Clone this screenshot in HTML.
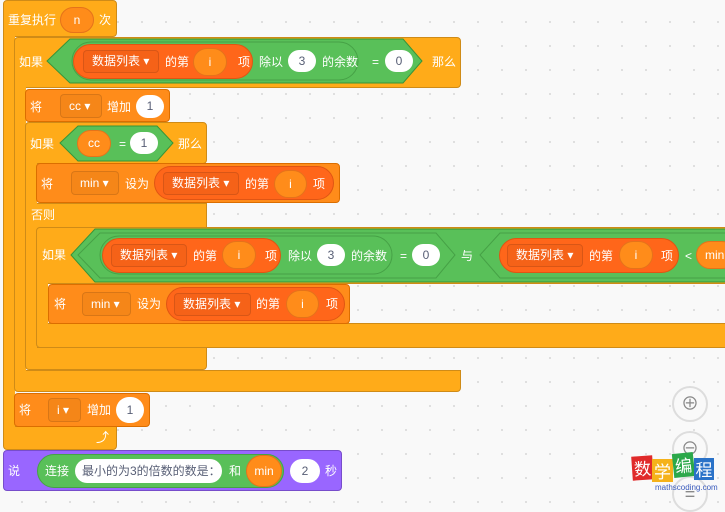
<!DOCTYPE html>
<html><head><meta charset="utf-8"><style>
*{margin:0;padding:0;box-sizing:border-box}
body{width:725px;height:503px;overflow:hidden;background:#f9f9f9;background-image:radial-gradient(#ddd 1px,transparent 1.2px);background-size:24px 24px;background-position:10px 10px;position:relative;font-family:"Liberation Sans","Noto Sans CJK SC",sans-serif}
div{position:absolute}
.c{background:#FFAB19;border:1px solid #CF8B17}
.a{background:#FFAB19;border-left:1px solid #CF8B17}
.o{background:#FF8C1A;border:1px solid #DB6E00;border-radius:4px}
.r{background:#FF661A;border:1px solid #E05513;border-radius:20px}
.v{background:#FF8C1A;border:1px solid #E5731A;border-radius:16px}
.w{background:#fff;border-radius:14px;color:#575e75;font-size:12px;text-align:center}
.dd{border:1px solid rgba(0,0,0,.12);border-radius:4px;background:rgba(0,0,0,.04)}
.t{color:#fff;font-size:12px;line-height:16px;white-space:nowrap}
.ct{color:#fff;font-size:12px;text-align:center}
.p{background:#9966FF;border:1px solid #774DCB;border-radius:4px}
.g{background:#59C059;border:1px solid #389438}
</style></head><body>
<!-- repeat -->
<div class="c" style="left:3px;top:0;width:114px;height:37px;border-radius:4px"></div>
<div class="c" style="left:3px;top:426px;width:114px;height:24px;border-radius:0 0 4px 4px"></div>
<div class="a" style="left:3px;top:30px;width:12px;height:408px"></div>
<div class="t" style="left:8px;top:12px">重复执行</div>
<div class="v ct" style="left:60px;top:7px;width:34px;height:26px;line-height:24px">n</div>
<div class="t" style="left:99px;top:12px">次</div>
<div class="t" style="left:96px;top:430px;font-size:13px">⤴</div>

<!-- if 1 -->
<div class="c" style="left:14px;top:37px;width:447px;height:51px;border-radius:4px"></div>
<div class="c" style="left:14px;top:370px;width:447px;height:22px;border-radius:0 0 4px 4px"></div>
<div class="a" style="left:14px;top:80px;width:12px;height:300px"></div>
<div class="t" style="left:19px;top:54px">如果</div>
<svg style="position:absolute;left:0;top:0" width="725" height="503">
<polygon points="47,61 70,39 403,39 422,61 403,83 70,83" fill="#59C059" stroke="#389438"/>
<rect x="72" y="42" width="286" height="38" rx="19" fill="#59C059" stroke="#46a146"/>
</svg>
<div class="r" style="left:73px;top:44px;width:180px;height:35px"></div>
<div class="dd t" style="left:83px;top:50px;width:76px;height:23px;line-height:21px;padding-left:8px">数据列表 ▾</div>
<div class="t" style="left:165px;top:54px">的第</div>
<div class="v ct" style="left:193px;top:48px;width:34px;height:28px;line-height:26px">i</div>
<div class="t" style="left:238px;top:54px">项</div>
<div class="t" style="left:259px;top:54px">除以</div>
<div class="w" style="left:288px;top:50px;width:28px;height:22px;line-height:22px">3</div>
<div class="t" style="left:322px;top:54px">的余数</div>
<div class="t" style="left:372px;top:54px">=</div>
<div class="w" style="left:385px;top:50px;width:28px;height:22px;line-height:22px">0</div>
<div class="t" style="left:432px;top:54px">那么</div>

<!-- cc -->
<div class="o" style="left:25px;top:89px;width:145px;height:33px"></div>
<div class="t" style="left:30px;top:99px">将</div>
<div class="dd t" style="left:60px;top:94px;width:42px;height:24px;line-height:22px;padding-left:8px">cc ▾</div>
<div class="t" style="left:107px;top:99px">增加</div>
<div class="w" style="left:136px;top:95px;width:28px;height:23px;line-height:23px">1</div>

<!-- if else -->
<div class="c" style="left:25px;top:122px;width:182px;height:42px;border-radius:4px"></div>
<div class="c" style="left:25px;top:203px;width:182px;height:26px"></div>
<div class="c" style="left:25px;top:347px;width:182px;height:23px;border-radius:0 0 4px 4px"></div>
<div class="a" style="left:25px;top:160px;width:12px;height:194px"></div>
<svg style="position:absolute;left:0;top:0" width="725" height="503">
<polygon points="60,143 78,126 157,126 173,143 157,161 78,161" fill="#59C059" stroke="#389438"/>
</svg>
<div class="t" style="left:30px;top:136px">如果</div>
<div class="v ct" style="left:77px;top:130px;width:34px;height:27px;line-height:25px">cc</div>
<div class="t" style="left:119px;top:136px">=</div>
<div class="w" style="left:130px;top:132px;width:28px;height:22px;line-height:22px">1</div>
<div class="t" style="left:178px;top:136px">那么</div>

<div class="o" style="left:36px;top:163px;width:304px;height:40px"></div>
<div class="t" style="left:41px;top:176px">将</div>
<div class="dd t" style="left:71px;top:171px;width:48px;height:24px;line-height:22px;padding-left:8px">min ▾</div>
<div class="t" style="left:125px;top:176px">设为</div>
<div class="r" style="left:154px;top:166px;width:180px;height:34px"></div>
<div class="dd t" style="left:163px;top:172px;width:76px;height:23px;line-height:21px;padding-left:8px">数据列表 ▾</div>
<div class="t" style="left:245px;top:176px">的第</div>
<div class="v ct" style="left:274px;top:170px;width:33px;height:28px;line-height:26px">i</div>
<div class="t" style="left:313px;top:176px">项</div>
<div class="t" style="left:31px;top:207px">否则</div>

<!-- inner if -->
<div class="c" style="left:36px;top:227px;width:700px;height:57px;border-radius:4px"></div>
<div class="c" style="left:36px;top:323px;width:700px;height:25px;border-radius:0 0 4px 4px"></div>
<div class="a" style="left:36px;top:280px;width:12px;height:50px"></div>
<svg style="position:absolute;left:0;top:0" width="725" height="503">
<polygon points="71,255 95,229 740,229 740,282 95,282" fill="#59C059" stroke="#389438"/>
<polygon points="78,255 100,233 436,233 455,255 436,278 100,278" fill="#59C059" stroke="#46a146"/>
<rect x="100" y="236" width="292" height="38" rx="19" fill="#59C059" stroke="#46a146"/>
<polygon points="480,255 500,233 740,233 740,278 500,278" fill="#59C059" stroke="#46a146"/>
</svg>
<div class="t" style="left:42px;top:247px">如果</div>
<div class="r" style="left:102px;top:238px;width:179px;height:35px"></div>
<div class="dd t" style="left:111px;top:244px;width:76px;height:23px;line-height:21px;padding-left:8px">数据列表 ▾</div>
<div class="t" style="left:193px;top:248px">的第</div>
<div class="v ct" style="left:222px;top:241px;width:34px;height:28px;line-height:26px">i</div>
<div class="t" style="left:265px;top:248px">项</div>
<div class="t" style="left:288px;top:248px">除以</div>
<div class="w" style="left:317px;top:244px;width:28px;height:22px;line-height:22px">3</div>
<div class="t" style="left:351px;top:248px">的余数</div>
<div class="t" style="left:400px;top:248px">=</div>
<div class="w" style="left:412px;top:244px;width:28px;height:22px;line-height:22px">0</div>
<div class="t" style="left:461px;top:248px">与</div>
<div class="r" style="left:499px;top:238px;width:180px;height:35px"></div>
<div class="dd t" style="left:507px;top:244px;width:76px;height:23px;line-height:21px;padding-left:8px">数据列表 ▾</div>
<div class="t" style="left:589px;top:248px">的第</div>
<div class="v ct" style="left:619px;top:241px;width:34px;height:28px;line-height:26px">i</div>
<div class="t" style="left:661px;top:248px">项</div>
<div class="t" style="left:685px;top:248px">&lt;</div>
<div class="v t" style="left:696px;top:241px;width:40px;height:28px;line-height:26px;padding-left:8px">min</div>

<div class="o" style="left:48px;top:284px;width:302px;height:40px"></div>
<div class="t" style="left:54px;top:296px">将</div>
<div class="dd t" style="left:82px;top:292px;width:49px;height:24px;line-height:22px;padding-left:8px">min ▾</div>
<div class="t" style="left:137px;top:296px">设为</div>
<div class="r" style="left:166px;top:287px;width:179px;height:34px"></div>
<div class="dd t" style="left:174px;top:293px;width:77px;height:23px;line-height:21px;padding-left:8px">数据列表 ▾</div>
<div class="t" style="left:256px;top:296px">的第</div>
<div class="v ct" style="left:286px;top:290px;width:33px;height:28px;line-height:26px">i</div>
<div class="t" style="left:326px;top:296px">项</div>

<!-- i incr -->
<div class="o" style="left:14px;top:393px;width:136px;height:34px"></div>
<div class="t" style="left:19px;top:402px">将</div>
<div class="dd t" style="left:48px;top:398px;width:33px;height:24px;line-height:22px;padding-left:8px">i ▾</div>
<div class="t" style="left:87px;top:402px">增加</div>
<div class="w" style="left:116px;top:397px;width:28px;height:26px;line-height:26px">1</div>

<!-- say -->
<div class="p" style="left:3px;top:450px;width:339px;height:41px"></div>
<div class="t" style="left:8px;top:463px">说</div>
<div class="g" style="left:37px;top:454px;width:247px;height:34px;border-radius:17px;border-color:#46a146"></div>
<div class="t" style="left:45px;top:463px">连接</div>
<div class="w" style="left:75px;top:459px;width:147px;height:24px;line-height:24px;text-align:left;padding-left:7px">最小的为3的倍数的数是：</div>
<div class="t" style="left:229px;top:463px">和</div>
<div class="v ct" style="left:246px;top:455px;width:36px;height:32px;line-height:30px">min</div>
<div class="w" style="left:290px;top:459px;width:30px;height:24px;line-height:24px">2</div>
<div class="t" style="left:325px;top:463px">秒</div>

<!-- zoom buttons -->
<div style="left:672px;top:386px;width:36px;height:36px;border-radius:50%;border:2px solid #ddd;background:#f9f9f9;color:#888;font-size:18px;text-align:center;line-height:32px">⊕</div>
<div style="left:672px;top:431px;width:36px;height:36px;border-radius:50%;border:2px solid #ddd;background:#f9f9f9;color:#888;font-size:18px;text-align:center;line-height:32px">⊖</div>
<div style="left:672px;top:476px;width:36px;height:36px;border-radius:50%;border:2px solid #ddd;background:#f9f9f9;color:#888;font-size:18px;text-align:center;line-height:32px">=</div>
<!-- logo -->
<div style="left:632px;top:456px;width:21px;height:24px;background:#e02a2a;color:#fff;font-size:17px;line-height:24px;text-align:center;font-family:'Noto Sans CJK SC',sans-serif;transform:rotate(-4deg)">数</div>
<div style="left:652px;top:459px;width:21px;height:23px;background:#f5b21a;color:#fff;font-size:17px;line-height:23px;text-align:center;font-family:'Noto Sans CJK SC',sans-serif">学</div>
<div style="left:673px;top:453px;width:21px;height:24px;background:#2ca84a;color:#fff;font-size:17px;line-height:24px;text-align:center;font-family:'Noto Sans CJK SC',sans-serif;transform:rotate(-6deg)">编</div>
<div style="left:694px;top:458px;width:20px;height:22px;background:#2a72c8;color:#fff;font-size:17px;line-height:22px;text-align:center;font-family:'Noto Sans CJK SC',sans-serif">程</div>
<div style="left:655px;top:483px;color:#3a5bbd;font-size:8px">mathscoding.com</div>
</body></html>
